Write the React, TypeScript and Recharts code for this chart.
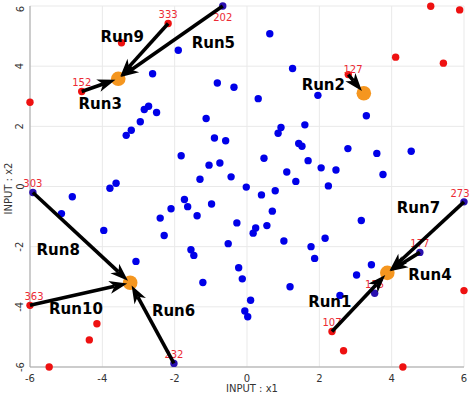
import React from 'react';
import { ScatterChart, Scatter, XAxis, YAxis, CartesianGrid } from 'recharts';

// ---------- data ----------
const xTicks = [-6, -4, -2, 0, 2, 4, 6];
const yTicks = [-6, -4, -2, 0, 2, 4, 6];

const bluePoints: [number, number][] = [
  [-1.90, 4.53], [-2.61, 3.75], [-0.82, 3.44], [-0.36, 3.30], [-2.72, 2.67], [-2.84, 2.56],
  [-2.50, 2.46], [-2.95, 2.15], [-1.13, 2.26], [-3.20, 1.87], [-3.34, 1.70], [-0.90, 1.61],
  [-0.59, 1.52], [-1.82, 1.02], [-1.05, 0.71], [-0.75, 0.78], [-1.30, 0.24], [-0.44, 0.32],
  [-3.62, 0.11], [-3.79, -0.06], [-4.83, -0.34], [-1.73, -0.43], [0.63, 5.08], [1.26, 3.92],
  [0.31, 2.92], [1.96, 3.03], [3.30, 2.35], [0.94, 1.96], [0.86, 1.77], [1.60, 2.05],
  [1.43, 1.43], [1.52, 1.34], [2.79, 1.26], [3.59, 1.10], [4.54, 1.17], [0.47, 0.94],
  [1.69, 0.86], [1.10, 0.48], [2.05, 0.62], [2.46, 0.55], [3.76, 0.40], [1.35, 0.17],
  [2.25, 0.02], [-0.02, -0.02], [0.40, -0.28], [0.78, -0.14], [-1.64, -0.67], [-2.10, -0.74],
  [-0.98, -0.58], [-1.38, -0.97], [-2.40, -1.05], [-0.28, -1.21], [-3.96, -1.46], [-2.29, -1.63],
  [-0.52, -1.90], [-1.55, -2.10], [-1.47, -2.29], [-3.07, -2.49], [-0.23, -2.70], [0.70, -0.82],
  [3.16, -1.13], [0.24, -1.38], [0.17, -1.55], [0.55, -1.30], [1.02, -1.81], [2.16, -1.72],
  [1.77, -2.00], [1.87, -2.39], [3.44, -2.60], [-0.13, -3.07], [0.10, -3.78], [-0.06, -4.14],
  [0.02, -4.33], [1.19, -3.33], [2.57, -3.62], [3.03, -2.94], [-1.22, -3.19], [-5.13, -0.90],
];

const redPoints: [number, number][] = [
  [-3.47, 4.78], [-6.0, 2.80], [5.08, 5.99], [5.88, 5.87], [4.11, 4.30], [5.43, 4.10],
  [6.0, -3.46], [2.67, -5.46], [4.31, -6.0], [-4.15, -4.56], [-4.36, -5.10], [-5.47, -6.0],
];

// labelled (numbered) points
const pointIds = ['107', '127', '152', '333', '363', '177', '202', '232', '273', '303', '155'];
const pointX = [2.35, 2.80, -4.57, -2.18, -6.0, 4.78, -0.67, -2.02, 6.0, -5.92, 3.53];
const pointY = [-4.82, 3.72, 3.16, 5.42, -3.95, -2.19, 6.0, -5.88, -0.51, -0.20, -3.55];
const pointKind = ['red', 'red', 'red', 'red', 'red', 'dark', 'dark', 'dark', 'dark', 'dark', 'dark'];

// optimum targets (orange)
const targetX = [-3.56, 3.23, -3.23, 3.88];
const targetY = [3.58, 3.10, -3.20, -2.87];

// runs
const runNames = ['Run1', 'Run2', 'Run3', 'Run4', 'Run5', 'Run6', 'Run7', 'Run8', 'Run9', 'Run10'];
const runStart = ['107', '127', '152', '177', '202', '232', '273', '303', '333', '363'];
const runTarget = [3, 1, 0, 3, 0, 2, 3, 2, 0, 2];

// ---------- layout / style ----------
const FONT = '"DejaVu Sans", Verdana, sans-serif';
const BLUE = '#0000e8';
const RED = '#ee1111';
const DARK = '#2a10b0';
const ORANGE = '#f5961f';
const LABEL_RED = '#ec2a34';

const runLabelPos: Record<string, [number, number]> = {
  Run1: [2.29, -3.85], Run2: [2.11, 3.39], Run3: [-4.06, 2.73], Run4: [5.06, -2.93],
  Run5: [-0.93, 4.76], Run6: [-2.03, -4.15], Run7: [4.74, -0.71], Run8: [-5.22, -2.11],
  Run9: [-3.45, 4.96], Run10: [-4.73, -4.07],
};
const idLabelOffset: Record<string, [number, number]> = {
  '202': [0, 11.5], '363': [4, -8.5], '273': [-4, -8.5], '127': [4.7, -5],
};

const toXY = (arr: [number, number][]) => arr.map(([x, y]) => ({ x, y }));
const blueData = toXY(bluePoints);
const redData = toXY(redPoints);
const labelled = pointIds.map((id, i) => ({ id, x: pointX[i], y: pointY[i], kind: pointKind[i] }));
const targetData = targetX.map((x, i) => ({ x, y: targetY[i] }));
const arrows = runNames.map((name, i) => {
  const s = pointIds.indexOf(runStart[i]);
  const t = runTarget[i];
  return { name, data: [{ x: pointX[s], y: pointY[s] }, { x: targetX[t], y: targetY[t] }] };
});
const runLabelData = runNames.map((name) => ({ name, x: runLabelPos[name][0], y: runLabelPos[name][1] }));

// ---------- renderers ----------
const dot = (color: string, r: number) => (p: any) => (
  <circle cx={p.cx} cy={p.cy} r={r} fill={color} stroke="none" />
);

const labelledShape = (p: any) => {
  const id = p.payload.id as string;
  const off = idLabelOffset[id] || [0, -9];
  return (
    <g>
      <circle cx={p.cx} cy={p.cy} r={3.7} fill={p.payload.kind === 'red' ? RED : DARK} />
      <text x={p.cx + off[0]} y={p.cy + off[1]} textAnchor="middle" dominantBaseline="central"
        fontSize={10} fontFamily={FONT} fill={LABEL_RED}>{id}</text>
    </g>
  );
};

const arrowLine = (p: any) => {
  const pts = p.points;
  if (!pts || pts.length < 2) return <g />;
  const a = pts[0], b = pts[1];
  const dx = b.x - a.x, dy = b.y - a.y;
  const len = Math.hypot(dx, dy) || 1;
  const ux = dx / len, uy = dy / len;
  const nx = -uy, ny = ux;
  const tx = b.x - ux * 3, ty = b.y - uy * 3;
  const L = 18, W = 6.5, N = 13;
  const bx = tx - ux * L, by = ty - uy * L;
  const kx = tx - ux * N, ky = ty - uy * N;
  return (
    <g>
      <line x1={a.x} y1={a.y} x2={kx} y2={ky} stroke="#000" strokeWidth={3.6} />
      <polygon points={`${tx},${ty} ${bx + nx * W},${by + ny * W} ${kx},${ky} ${bx - nx * W},${by - ny * W}`} fill="#000" />
    </g>
  );
};

const runLabelShape = (p: any) => (
  <text x={p.cx} y={p.cy} textAnchor="middle" dominantBaseline="central" fontSize={15}
    fontWeight="bold" fontFamily={FONT} fill="#000">{p.payload.name}</text>
);

const XTick = (p: any) => (
  <text x={p.x} y={p.y} dy="0.71em" textAnchor="middle" fontSize={10} fontFamily={FONT} fill="#333">
    {p.payload.value}
  </text>
);
const YTick = (p: any) => (
  <text x={p.x} y={p.y} transform={`rotate(-90, ${p.x}, ${p.y})`} textAnchor="middle" fontSize={10}
    fontFamily={FONT} fill="#333">{p.payload.value}</text>
);

const XTitle = (p: any) => {
  const vb = p.viewBox || { x: 30, y: 367, width: 434, height: 27 };
  return (
    <text x={vb.x + vb.width / 2 + 5} y={vb.y + 25} textAnchor="middle" fontSize={10}
      fontFamily={FONT} fill="#333">INPUT : x1</text>
  );
};
const YTitle = (p: any) => {
  const vb = p.viewBox || { x: 0, y: 6, width: 30, height: 361 };
  const x = vb.x + 12;
  const y = vb.y + vb.height / 2 + 2;
  return (
    <text x={x} y={y} transform={`rotate(-90, ${x}, ${y})`} textAnchor="middle" fontSize={10}
      fontFamily={FONT} fill="#333">INPUT : x2</text>
  );
};

const FRAME = '#a4a4a4';

export default function App() {
  return (
    <div style={{ position: 'absolute', left: 0, top: 0, width: 474, height: 394, background: '#fff' }}>
      <ScatterChart width={474} height={394} margin={{ top: 6, right: 10, bottom: 0, left: 0 }}
        style={{ fontFamily: FONT }}>
        <CartesianGrid stroke="#e9e9e9" strokeWidth={1} />
        <XAxis xAxisId={0} type="number" dataKey="x" domain={[-6, 6]} ticks={xTicks} height={27}
          tickSize={5} tickMargin={3} tickLine={false} axisLine={{ stroke: FRAME }} tick={<XTick />}
          label={{ content: (lp: any) => <XTitle {...lp} /> }} />
        <XAxis xAxisId="top" orientation="top" type="number" domain={[-6, 6]} ticks={xTicks} height={0}
          tick={false} tickLine={false} axisLine={{ stroke: FRAME }} />
        <YAxis yAxisId={0} type="number" dataKey="y" domain={[-6, 6]} ticks={yTicks} width={30}
          tickSize={4} tickMargin={2.5} tickLine={false} axisLine={{ stroke: FRAME }} tick={<YTick />}
          label={{ content: (lp: any) => <YTitle {...lp} /> }} />
        <YAxis yAxisId="right" orientation="right" type="number" domain={[-6, 6]} ticks={yTicks} width={0}
          tick={false} tickLine={false} axisLine={{ stroke: FRAME }} />

        <Scatter data={blueData} shape={dot(BLUE, 3.7)} isAnimationActive={false} />
        <Scatter data={redData} shape={dot(RED, 3.7)} isAnimationActive={false} />
        <Scatter data={labelled} shape={labelledShape} isAnimationActive={false} />
        <Scatter data={targetData} shape={dot(ORANGE, 7.3)} isAnimationActive={false} />
        {arrows.map((a) => (
          <Scatter key={a.name} data={a.data} line={arrowLine} lineType="joint" shape={() => <g />}
            isAnimationActive={false} />
        ))}
        <Scatter data={runLabelData} shape={runLabelShape} isAnimationActive={false} />
      </ScatterChart>
    </div>
  );
}
